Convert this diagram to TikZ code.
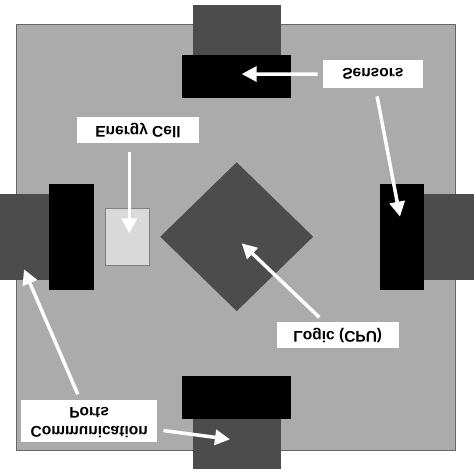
\documentclass[tikz,border=0pt]{standalone}
\usepackage{fontspec}
\setmainfont{Liberation Sans}
\usepackage{graphicx}
\usepackage{tikz}
\usetikzlibrary{arrows.meta, shapes.geometric}

\definecolor{board}{HTML}{ABABAB}
\definecolor{portgray}{HTML}{4C4C4C}
\definecolor{cellgray}{HTML}{D9D9D9}

\tikzset{
    port/.style={fill=portgray},
    sensor/.style={fill=black},
    label/.style={fill=white, inner sep=0pt, font=\fontsize{15.5}{19}\selectfont\bfseries},
    pointer/.style={draw=white, line width=3.5pt, -{Triangle[length=15pt, width=15pt]}}
}

\newcommand{\flipped}[1]{\scalebox{1}[-1]{#1}}

\begin{document}
\begin{tikzpicture}[x=1pt, y=-1pt]
    \useasboundingbox (0,0) rectangle (474,474);
    \fill[white] (0,0) rectangle (474,474);
    % board
    \draw[fill=board, draw=gray!80!black, line width=0.6pt] (16.7,24) rectangle (455.7,450);
    % ports
    \fill[port] (192.7,5) rectangle (280.7,55);
    \fill[port] (192.7,419) rectangle (280.7,469);
    \fill[port] (0,194) rectangle (50,280);
    \fill[port] (424,194) rectangle (474,280);
    % sensors
    \fill[sensor] (182,55) rectangle (291,97.7);
    \fill[sensor] (182,376) rectangle (291,419);
    \fill[sensor] (49,184) rectangle (94,290);
    \fill[sensor] (380,184) rectangle (424,290);
    % energy cell and logic
    \node(cell)[draw=gray, fill=cellgray, line width=0.6pt, minimum width=44pt, minimum height=57pt, inner sep=0pt] at (127,237.2) {};
    \node(cpu)[diamond, fill=portgray, minimum width=153pt, minimum height=149pt, inner sep=0pt] at (236.7,236.7) {};
    % labels
    \node(sens)[label, minimum width=100pt, minimum height=28.3pt] at (372.9,74.2) {\flipped{Sensors}};
    \node(ecell)[label, minimum width=122pt, minimum height=26.6pt] at (138,130) {\flipped{Energy Cell}};
    \node(logic)[label, minimum width=122.3pt, minimum height=26.6pt] at (337.8,335) {\flipped{Logic (CPU)}};
    \node(comm)[label, minimum width=136.3pt, minimum height=41.7pt] at (89.2,420.8) {\flipped{\begin{tabular}{@{}c@{}}Communication\\Ports\end{tabular}}};
    % arrow tips
    \coordinate(sensT) at (241.7,74);
    \coordinate(sensR) at (400,216.7);
    \coordinate(cellT) at (129.3,233.3);
    \coordinate(cpuT) at (241.7,243.3);
    \coordinate(portL) at (24,269.3);
    \coordinate(portB) at (230,439.3);
    \draw[pointer, shorten <=5pt] (sens) -- (sensT);
    \draw[pointer, shorten <=8pt] (sens) -- (sensR);
    \draw[pointer] (ecell.south -| cellT) ++(0,8.4) -- (cellT);
    \draw[pointer, shorten <=6pt] (logic) -- (cpuT);
    \draw[pointer, shorten <=6pt] (comm) -- (portL);
    \draw[pointer, shorten <=6pt] (comm) -- (portB);
\end{tikzpicture}
\end{document}
